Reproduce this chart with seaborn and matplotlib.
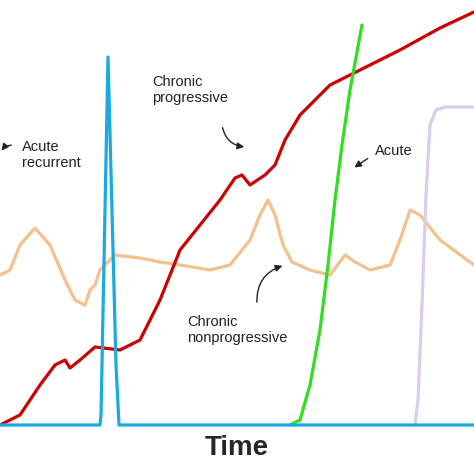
import matplotlib
matplotlib.use("Agg")
import matplotlib.pyplot as plt
import seaborn as sns
import numpy as np
import pandas as pd

# schematic courses over time (arbitrary units)
t_recurrent = [0, 100, 101, 108, 116, 119, 474]
v_recurrent = [0, 0, 10, 368, 60, 0, 0]

t_progressive = [0, 20, 40, 55, 65, 70, 80, 95, 120, 140, 160, 180, 200, 220,
                 235, 242, 250, 265, 275, 285, 300, 330, 360, 400, 440, 474]
v_progressive = [0, 10, 40, 60, 65, 57, 65, 78, 75, 85, 125, 175, 200, 225,
                 247, 250, 240, 250, 260, 285, 310, 340, 355, 375, 397, 413]

t_acute = [290, 300, 310, 320, 328, 335, 342, 350, 362]
v_acute = [0, 5, 40, 95, 160, 225, 280, 335, 400]

t_late = [415, 418, 422, 426, 430, 436, 445, 474]
v_late = [0, 25, 120, 230, 300, 315, 318, 318]

t_nonprog = [0, 10, 20, 35, 50, 65, 75, 85, 90, 95, 100, 115, 140, 160, 180,
             210, 230, 250, 260, 268, 275, 283, 292, 310, 330, 345, 355, 370,
             390, 400, 410, 420, 440, 474]
v_nonprog = [150, 155, 180, 197, 180, 145, 125, 120, 135, 140, 155, 170, 167,
             163, 160, 155, 160, 185, 210, 225, 210, 180, 163, 155, 150, 170,
             163, 155, 160, 185, 215, 210, 185, 160]

sns.set_style("white")
fig = plt.figure(figsize=(4.74, 4.74), dpi=100)
ax = fig.add_axes([0, 0, 1, 1])

series = [
    (t_nonprog, v_nonprog, "#f5c08e"),
    (t_late, v_late, "#d9ccec"),
    (t_progressive, v_progressive, "#cc0000"),
    (t_acute, v_acute, "#33dd22"),
    (t_recurrent, v_recurrent, "#1aa9e0"),
]
for t, v, c in series:
    df = pd.DataFrame({"t": t, "v": v})
    sns.lineplot(data=df, x="t", y="v", color=c, lw=2.3, ax=ax, sort=False)

ax.set_xlim(0, 474)
ax.set_ylim(-49, 425)
ax.axis("off")

ax.text(237, -23, "Time", ha="center", va="center", fontsize=20,
        fontweight="bold", family="Liberation Sans")

fs = 10.5
kw = dict(fontsize=fs, family="Liberation Sans", color="#222222")
ax.text(152, 350, "Chronic\nprogressive", va="top", **kw)
ax.text(375, 274, "Acute", va="center", **kw)
ax.text(22, 270, "Acute\nrecurrent", va="center", **kw)
ax.text(187, 95, "Chronic\nnonprogressive", va="center", **kw)

ap = dict(arrowstyle="-|>", color="#222222", lw=1, mutation_scale=10)
ax.annotate("", xy=(247, 278), xytext=(222, 300),
            arrowprops=dict(ap, connectionstyle="arc3,rad=0.4"))
ax.annotate("", xy=(352, 256), xytext=(370, 268),
            arrowprops=dict(ap, connectionstyle="arc3,rad=0"))
ax.annotate("", xy=(0, 272), xytext=(14, 280),
            arrowprops=dict(ap, connectionstyle="arc3,rad=0.3"))
ax.annotate("", xy=(285, 160), xytext=(257, 120),
            arrowprops=dict(ap, connectionstyle="arc3,rad=-0.4"))

fig.savefig("out.png", dpi=100)
